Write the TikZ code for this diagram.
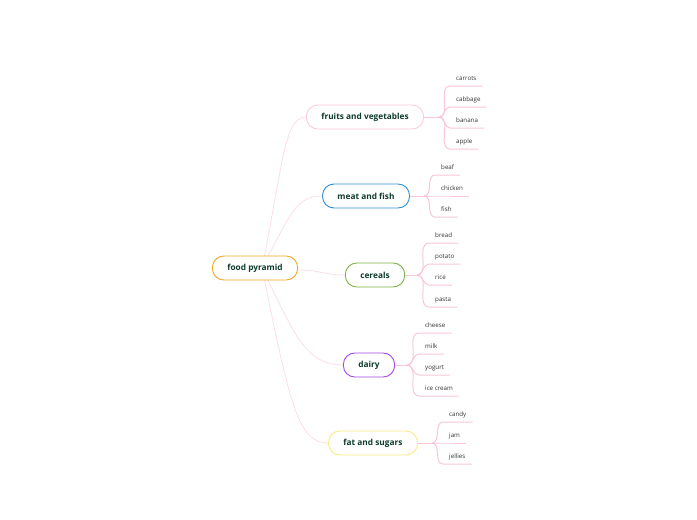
\documentclass[tikz,border=0pt]{standalone}
\usepackage{fontspec}
\setmainfont{Open Sans}
\usepackage{tikz}
\usetikzlibrary{positioning}

\definecolor{maintext}{HTML}{0E3B2C}
\definecolor{leaftext}{HTML}{333333}
\definecolor{branchpink}{HTML}{FCDDE8}
\definecolor{twigpink}{HTML}{F9C6DA}
\definecolor{rootorange}{HTML}{F5A623}
\definecolor{fvpink}{HTML}{F9CCDD}
\definecolor{meatblue}{HTML}{2D8FD5}
\definecolor{cerealgreen}{HTML}{7CB342}
\definecolor{dairypurple}{HTML}{A545F0}
\definecolor{fatyellow}{HTML}{FBEA86}

\begin{document}
\begin{tikzpicture}[x=1pt, y=-1pt,
    topic/.style={draw, line width=0.9pt, fill=white, rounded corners=11.5pt,
        minimum height=24pt, inner xsep=15pt, text=maintext,
        font=\fontsize{8.3}{10}\selectfont\bfseries},
    leaf/.style={anchor=south west, inner xsep=6pt, inner ysep=4pt,
        text height=4.6pt, text depth=1.4pt, text=leaftext,
        font=\fontsize{6.2}{7}\selectfont},
    branch/.style={draw=branchpink, line width=0.8pt},
    twig/.style={draw=twigpink, line width=1pt}]

            \useasboundingbox (0,0) rectangle (697,520);

            % Branches: root to topics (drawn first, behind the boxes)
            \coordinate (rootc) at (262,268);
            \draw[branch] (rootc) .. controls (283,165) and (284,117) .. (306,117);
            \draw[branch] (rootc) .. controls (290,215) and (296,196) .. (322,196);
            \draw[branch] (rootc) -- (298,270) .. controls (322,270) and (322,275) .. (346,275);
            \draw[branch] (rootc) .. controls (295,335) and (305,365) .. (344,365);
            \draw[branch] (rootc) .. controls (290,405) and (298,443) .. (328,443);

            \node[topic, draw=rootorange] (root) at (255,268) {food pyramid};

            \node[topic, draw=fvpink] (fv) at (365,117) {fruits and vegetables};
            \node[topic, draw=meatblue] (meat) at (366,196) {meat and fish};
            \node[topic, draw=cerealgreen] (cer) at (375,275) {cereals};
            \node[topic, draw=dairypurple] (dairy) at (369,365) {dairy};
            \node[topic, draw=fatyellow] (fat) at (373,443) {fat and sugars};

            % Junctions
            \coordinate (fvj) at (439,117);
            \coordinate (meatj) at (424,196);
            \coordinate (cerj) at (417,275);
            \coordinate (dairyj) at (407,365);
            \coordinate (fatj) at (432,443);

            % Leaves
            \node[leaf] (carrots) at (450,86) {carrots};
            \node[leaf] (cabbage) at (450,107) {cabbage};
            \node[leaf] (banana) at (450,128) {banana};
            \node[leaf] (apple) at (450,149) {apple};

            \node[leaf] (beaf) at (435,175) {beaf};
            \node[leaf] (chicken) at (435,196) {chicken};
            \node[leaf] (fish) at (435,217) {fish};

            \node[leaf] (bread) at (429,243) {bread};
            \node[leaf] (potato) at (429,264) {potato};
            \node[leaf] (rice) at (429,285) {rice};
            \node[leaf] (pasta) at (429,307) {pasta};

            \node[leaf] (cheese) at (419,333) {cheese};
            \node[leaf] (milk) at (419,354) {milk};
            \node[leaf] (yogurt) at (419,375) {yogurt};
            \node[leaf] (icecream) at (419,396) {ice cream};

            \node[leaf] (candy) at (443,422) {candy};
            \node[leaf] (jam) at (443,443) {jam};
            \node[leaf] (jellies) at (443,464) {jellies};

            % Connections: topics to leaves
            \draw[twig] (fv.east) -- (fvj);
            \foreach \l in {carrots, cabbage, banana, apple}
                \draw[twig] (fvj) to[out=0, in=180] (\l.south west) -- (\l.south east);

            \draw[twig] (meat.east) -- (meatj);
            \foreach \l in {beaf, chicken, fish}
                \draw[twig] (meatj) to[out=0, in=180] (\l.south west) -- (\l.south east);

            \draw[twig] (cer.east) -- (cerj);
            \foreach \l in {bread, potato, rice, pasta}
                \draw[twig] (cerj) to[out=0, in=180] (\l.south west) -- (\l.south east);

            \draw[twig] (dairy.east) -- (dairyj);
            \foreach \l in {cheese, milk, yogurt, icecream}
                \draw[twig] (dairyj) to[out=0, in=180] (\l.south west) -- (\l.south east);

            \draw[twig] (fat.east) -- (fatj);
            \foreach \l in {candy, jam, jellies}
                \draw[twig] (fatj) to[out=0, in=180] (\l.south west) -- (\l.south east);

        \end{tikzpicture}
\end{document}
